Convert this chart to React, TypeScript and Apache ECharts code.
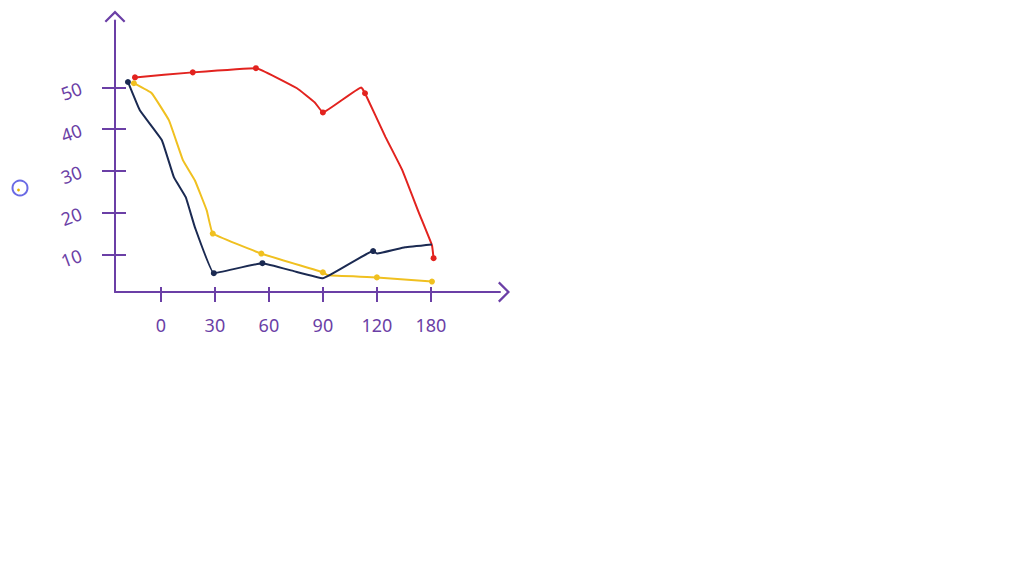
import React, { useEffect, useRef } from "react";
import * as echarts from "echarts";

// x positions are in "tick index" units: tick i carries label xTickLabels[i]
const xTickLabels = ["0", "30", "60", "90", "120", "180"];
const xTickValues = [0, 1, 2, 3, 4, 5];
const yTickValues = [10, 20, 30, 40, 50];

const redX = [-0.48, 0.59, 1.76, 2.52, 2.85, 3.0, 3.71, 3.78, 4.16, 4.47, 4.78, 5.02, 5.05];
const redY = [52.4, 53.6, 54.6, 49.8, 46.4, 44.0, 50.0, 48.6, 38.1, 30.2, 19.9, 12.2, 9.1];
const redDots = [0, 1, 2, 5, 7, 12];

const blueX = [-0.61, -0.39, 0.02, 0.24, 0.46, 0.63, 0.98, 1.88, 2.46, 3.0, 3.93, 4.0, 4.52, 5.02];
const blueY = [51.3, 44.5, 37.3, 28.5, 23.7, 16.5, 5.5, 7.9, 6.0, 4.3, 10.8, 10.2, 11.7, 12.4];
const blueDots = [0, 6, 7, 10];

const yellowX = [-0.5, -0.17, 0.15, 0.41, 0.63, 0.85, 0.96, 1.86, 3.0, 3.1, 4.0, 5.02];
const yellowY = [51.0, 48.6, 42.1, 32.5, 27.7, 20.5, 15.0, 10.2, 5.7, 5.0, 4.5, 3.5];
const yellowDots = [0, 6, 7, 8, 10, 11];

const PURPLE = "#6b3fa6";
const RED = "#e2231f";
const NAVY = "#1b2a52";
const YELLOW = "#f0c020";

const chevron = "path://M0,10 L10,0 L20,10 L18.5,11.5 L10,3 L1.5,11.5 Z";

function buildData(xs: number[], ys: number[], dots: number[]) {
  return xs.map((x, i) => ({
    value: [x, ys[i]],
    symbolSize: dots.includes(i) ? 6 : 0,
  }));
}

function lineSeries(name: string, color: string, xs: number[], ys: number[], dots: number[]) {
  return {
    name,
    type: "line",
    data: buildData(xs, ys, dots),
    symbol: "circle",
    showSymbol: true,
    lineStyle: { color, width: 2 },
    itemStyle: { color },
    smooth: 0.08,
    silent: true,
  };
}

export default function App() {
  const ref = useRef<HTMLDivElement>(null);
  useEffect(() => {
    if (!ref.current) return;
    const chart = echarts.init(ref.current, undefined, { renderer: "svg" });
    const labelStyle = {
      color: PURPLE,
      fontFamily: "Noto Sans",
      fontSize: 18,
    };
    chart.setOption({
      animation: false,
      backgroundColor: "#ffffff",
      grid: { left: 115, right: 524, top: 20.6, bottom: 270 },
      xAxis: [
        {
          type: "value",
          min: -0.85,
          max: 6.28,
          splitLine: { show: false },
          axisLine: {
            show: true,
            onZero: false,
            lineStyle: { color: PURPLE, width: 2 },
            symbol: ["none", chevron],
            symbolSize: [22, 12],
            symbolOffset: [0, 4],
          },
          axisTick: {
            show: true,
            customValues: xTickValues,
            length: 10,
            lineStyle: { color: PURPLE, width: 2 },
          },
          axisLabel: {
            show: true,
            customValues: xTickValues,
            formatter: (v: number) => xTickLabels[Math.round(v)] ?? "",
            margin: 24,
            ...labelStyle,
          },
        },
        {
          type: "value",
          min: -0.85,
          max: 6.28,
          position: "bottom",
          splitLine: { show: false },
          axisLine: { show: false, onZero: false },
          axisTick: {
            show: true,
            inside: true,
            customValues: xTickValues,
            length: 5,
            lineStyle: { color: PURPLE, width: 2 },
          },
          axisLabel: { show: false },
        },
      ],
      yAxis: [
        {
          type: "value",
          min: 1,
          max: 66,
          splitLine: { show: false },
          axisLine: {
            show: true,
            onZero: false,
            lineStyle: { color: PURPLE, width: 2 },
            symbol: ["none", chevron],
            symbolSize: [22, 12],
            symbolOffset: [0, 4],
          },
          axisTick: {
            show: true,
            customValues: yTickValues,
            length: 13,
            lineStyle: { color: PURPLE, width: 2 },
          },
          axisLabel: {
            show: true,
            customValues: yTickValues,
            rotate: 20,
            margin: 34,
            ...labelStyle,
          },
        },
        {
          type: "value",
          min: 1,
          max: 66,
          position: "left",
          splitLine: { show: false },
          axisLine: { show: false, onZero: false },
          axisTick: {
            show: true,
            inside: true,
            customValues: yTickValues,
            length: 11,
            lineStyle: { color: PURPLE, width: 2 },
          },
          axisLabel: { show: false },
        },
      ],
      series: [
        lineSeries("red", RED, redX, redY, redDots),
        lineSeries("yellow", YELLOW, yellowX, yellowY, yellowDots),
        lineSeries("navy", NAVY, blueX, blueY, blueDots),
      ],
      graphic: [
        {
          type: "circle",
          shape: { cx: 20, cy: 188, r: 7.5 },
          style: { fill: "none", stroke: "#6a6ae4", lineWidth: 2 },
          silent: true,
        },
        {
          type: "circle",
          shape: { cx: 18.5, cy: 190, r: 1.4 },
          style: { fill: "#e8b400" },
          silent: true,
        },
      ],
    });
    return () => chart.dispose();
  }, []);
  return (
    <div
      ref={ref}
      style={{ position: "fixed", left: 0, top: 0, width: 1024, height: 562, background: "#fff" }}
    />
  );
}
